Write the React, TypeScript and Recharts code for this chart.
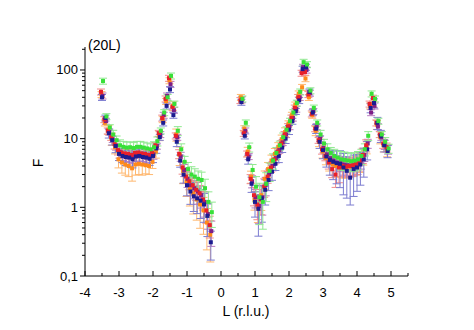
import { ScatterChart, Scatter, XAxis, YAxis, ErrorBar } from 'recharts'

// L grid (r.l.u.) for the two measured segments
const LA = [-3.5, -3.4, -3.3, -3.2, -3.1, -3.0, -2.9, -2.8, -2.7, -2.6, -2.5, -2.4, -2.3, -2.2, -2.1, -2.0, -1.9, -1.8, -1.7, -1.6, -1.5, -1.4, -1.3, -1.2, -1.1, -1.0, -0.9, -0.8, -0.7, -0.6, -0.5, -0.4, -0.3]
const LB = [0.6, 0.7, 0.8, 0.9, 1.0, 1.1, 1.2, 1.3, 1.4, 1.5, 1.6, 1.7, 1.8, 1.9, 2.0, 2.1, 2.2, 2.3, 2.4, 2.5, 2.6, 2.7, 2.8, 2.9, 3.0, 3.1, 3.2, 3.3, 3.4, 3.5, 3.6, 3.7, 3.8, 3.9, 4.0, 4.1, 4.2, 4.3, 4.4, 4.5, 4.6, 4.7, 4.8, 4.9]

// F values per series
const greenA = [69, 21, 14.5, 11.5, 9.5, 8.0, 7.6, 7.4, 7.5, 7.3, 7.6, 7.6, 7.4, 7.2, 7.0, 7.5, 9.2, 13, 24, 40, 82, 32, 13, 7.0, 4.6, 3.6, 3.0, 2.8, 2.6, 2.5, 1.9, 1.2, 0.85]
const redA = [48, 19, 13, 10.5, 8.3, 6.8, 6.3, 6.1, 6.0, 5.8, 6.2, 6.3, 6.1, 6.0, 5.8, 6.2, 8.0, 12, 20, 38, 76, 29, 11, 6.0, 3.8, 2.8, 2.4, 2.1, 1.8, 1.6, 1.3, 0.9, 0.55]
const navyA = [40, 20, 12, 9.5, 7.8, 6.0, 5.6, 5.4, 5.3, 5.0, 5.5, 5.6, 5.4, 5.3, 5.1, 5.6, 7.2, 10.5, 17, 30, 52, 22, 9, 4.8, 3.0, 2.1, 1.7, 1.45, 1.35, 1.25, 1.1, 0.75, 0.31]
const orangeA = [44, 17, 13.5, 10, 7.5, 5.0, 4.5, 4.2, 4.0, 3.7, 4.2, 4.3, 4.2, 4.1, 4.0, 4.6, 6.5, 11, 19, 35, 70, 30, 11.5, 5.8, 3.4, 2.4, 1.9, 1.6, 1.3, 1.1, 0.9, 0.6, 0.4]
const purpleA = [42, 18, 12.5, 9.8, 8, 6.5, 6.0, 5.8, 5.6, 5.4, 5.8, 5.9, 5.8, 5.6, 5.5, 5.9, 7.8, 11.5, 22, 42, 62, 26, 10.5, 5.5, 3.5, 2.6, 2.1, 1.9, 1.7, 1.5, 1.2, 0.8, 0.45]

const greenB = [38, 17, 7.5, 3.5, 2.0, 1.4, 1.2, 2.2, 3.4, 4.8, 6.2, 8.0, 10.5, 13.5, 18, 24, 33, 48, 130, 120, 50, 28, 17, 11.5, 8.5, 7.0, 6.2, 5.6, 5.3, 5.0, 4.9, 4.8, 4.7, 4.8, 5.0, 5.6, 7.0, 11, 45, 38, 18, 11.5, 9.0, 7.2]
const redB = [36, 12, 6.0, 2.6, 1.5, 1.1, 1.3, 2.0, 2.8, 3.8, 5.0, 6.5, 8.5, 11.5, 15, 20, 28, 40, 90, 93, 44, 23, 14, 9.5, 7.0, 5.6, 4.5, 3.6, 3.0, 3.8, 4.0, 3.9, 4.0, 4.1, 4.3, 4.8, 5.8, 8.0, 32, 39, 17, 11.5, 8.5, 7.5]
const navyB = [34, 11, 5.0, 2.2, 1.2, 0.95, 1.35, 1.8, 2.5, 3.3, 4.3, 5.6, 7.4, 10, 13.5, 18, 25, 36, 103, 110, 48, 24, 14, 9.0, 6.8, 5.5, 4.9, 4.6, 4.4, 4.3, 3.8, 3.4, 2.7, 3.6, 3.8, 4.2, 5.0, 7.0, 28, 33, 17, 11, 8.0, 6.6]
const orangeB = [40, 14, 6.5, 2.8, 1.3, 1.0, 1.5, 2.6, 3.6, 4.8, 6.0, 7.6, 9.8, 12.5, 16.5, 22, 31, 45, 56, 75, 40, 22, 13, 9.0, 6.5, 5.2, 4.5, 4.2, 4.0, 3.9, 3.8, 3.8, 3.9, 4.0, 4.2, 4.6, 5.5, 7.5, 30, 32, 16, 10.5, 8.0, 6.8]
const purpleB = [37, 13, 5.5, 2.4, 1.4, 1.05, 1.4, 2.1, 3.0, 4.0, 5.2, 6.8, 8.8, 11.5, 15, 20, 27, 40, 110, 100, 46, 25, 15, 10, 7.3, 5.9, 5.2, 4.8, 4.5, 4.4, 4.2, 4.1, 4.0, 4.1, 4.3, 4.8, 5.8, 8.5, 24, 30, 15, 10.5, 8.2, 7.0]

// relative error (half bar / F) per point
const greenErrA = [0.1, 0.1, 0.1, 0.15, 0.15, 0.2, 0.2, 0.2, 0.2, 0.2, 0.2, 0.2, 0.2, 0.2, 0.2, 0.2, 0.15, 0.1, 0.1, 0.1, 0.1, 0.1, 0.15, 0.2, 0.2, 0.25, 0.3, 0.3, 0.3, 0.3, 0.35, 0.4, 0.4]
const redErrA = [0.1, 0.1, 0.1, 0.1, 0.15, 0.15, 0.15, 0.15, 0.15, 0.15, 0.15, 0.15, 0.15, 0.15, 0.15, 0.15, 0.1, 0.1, 0.1, 0.1, 0.1, 0.1, 0.1, 0.15, 0.2, 0.2, 0.25, 0.25, 0.3, 0.3, 0.3, 0.35, 0.35]
const navyErrA = [0.1, 0.1, 0.15, 0.15, 0.2, 0.2, 0.2, 0.25, 0.25, 0.25, 0.25, 0.25, 0.2, 0.2, 0.2, 0.2, 0.15, 0.1, 0.1, 0.1, 0.1, 0.1, 0.15, 0.2, 0.25, 0.3, 0.35, 0.4, 0.4, 0.45, 0.45, 0.5, 0.45]
const orangeErrA = [0.1, 0.1, 0.15, 0.2, 0.2, 0.25, 0.3, 0.3, 0.3, 0.35, 0.3, 0.3, 0.3, 0.25, 0.25, 0.2, 0.2, 0.15, 0.1, 0.1, 0.1, 0.15, 0.2, 0.3, 0.35, 0.4, 0.45, 0.5, 0.5, 0.55, 0.55, 0.6, 0.6]
const purpleErrA = [0.1, 0.1, 0.1, 0.1, 0.15, 0.2, 0.2, 0.2, 0.2, 0.2, 0.2, 0.2, 0.2, 0.2, 0.2, 0.15, 0.1, 0.1, 0.1, 0.1, 0.1, 0.1, 0.1, 0.15, 0.2, 0.25, 0.3, 0.3, 0.35, 0.35, 0.4, 0.4, 0.4]

const greenErrB = [0.1, 0.1, 0.15, 0.2, 0.4, 0.6, 0.6, 0.45, 0.3, 0.25, 0.2, 0.15, 0.15, 0.1, 0.1, 0.1, 0.1, 0.1, 0.1, 0.1, 0.1, 0.1, 0.1, 0.15, 0.15, 0.2, 0.2, 0.25, 0.25, 0.3, 0.3, 0.3, 0.3, 0.3, 0.3, 0.25, 0.2, 0.15, 0.1, 0.1, 0.1, 0.1, 0.15, 0.15]
const redErrB = [0.1, 0.1, 0.1, 0.15, 0.3, 0.4, 0.4, 0.3, 0.2, 0.15, 0.15, 0.1, 0.1, 0.1, 0.1, 0.1, 0.1, 0.1, 0.1, 0.1, 0.1, 0.1, 0.1, 0.1, 0.15, 0.15, 0.2, 0.25, 0.35, 0.4, 0.3, 0.3, 0.3, 0.3, 0.3, 0.3, 0.25, 0.2, 0.1, 0.1, 0.1, 0.1, 0.15, 0.15]
const navyErrB = [0.1, 0.1, 0.15, 0.25, 0.4, 0.6, 0.55, 0.4, 0.3, 0.25, 0.2, 0.2, 0.15, 0.15, 0.15, 0.1, 0.1, 0.1, 0.1, 0.1, 0.1, 0.1, 0.15, 0.2, 0.25, 0.3, 0.4, 0.45, 0.5, 0.55, 0.6, 0.6, 0.6, 0.6, 0.55, 0.5, 0.45, 0.3, 0.15, 0.15, 0.2, 0.2, 0.2, 0.2]
const orangeErrB = [0.1, 0.1, 0.15, 0.2, 0.3, 0.4, 0.4, 0.3, 0.25, 0.2, 0.2, 0.15, 0.15, 0.15, 0.1, 0.1, 0.1, 0.1, 0.1, 0.1, 0.1, 0.1, 0.15, 0.15, 0.2, 0.2, 0.25, 0.3, 0.3, 0.3, 0.3, 0.3, 0.3, 0.3, 0.3, 0.3, 0.25, 0.2, 0.1, 0.1, 0.15, 0.2, 0.2, 0.2]
const purpleErrB = [0.1, 0.1, 0.1, 0.2, 0.3, 0.45, 0.45, 0.3, 0.2, 0.15, 0.15, 0.1, 0.1, 0.1, 0.1, 0.1, 0.1, 0.1, 0.1, 0.1, 0.1, 0.1, 0.1, 0.1, 0.15, 0.15, 0.2, 0.2, 0.25, 0.25, 0.3, 0.3, 0.3, 0.3, 0.3, 0.25, 0.2, 0.15, 0.1, 0.1, 0.1, 0.1, 0.15, 0.15]

const X_TICKS = [-4, -3.5, -3, -2.5, -2, -1.5, -1, -0.5, 0, 0.5, 1, 1.5, 2, 2.5, 3, 3.5, 4, 4.5, 5, 5.5]
const Y_TICKS = [0.1, 0.2, 0.3, 0.4, 0.5, 0.6, 0.7, 0.8, 0.9, 1, 2, 3, 4, 5, 6, 7, 8, 9, 10, 20, 30, 40, 50, 60, 70, 80, 90, 100, 200]
const Y_LABELS: Record<number, string> = { 0.1: '0,1', 1: '1', 10: '10', 100: '100' }

const FONT = '"Liberation Sans", Arial, sans-serif'

function build(fa: number[], ea: number[], fb: number[], eb: number[], shift: number) {
  return [
    ...LA.map((L, i) => ({ L: L + shift, F: fa[i], err: fa[i] * ea[i] })),
    ...LB.map((L, i) => ({ L: L + shift, F: fb[i], err: fb[i] * eb[i] })),
  ]
}

const SERIES = [
  { name: 'orange', color: '#ff8a1a', errColor: '#ffb870', data: build(orangeA, orangeErrA, orangeB, orangeErrB, -0.015) },
  { name: 'purple', color: '#7e1f86', errColor: '#b87ac0', data: build(purpleA, purpleErrA, purpleB, purpleErrB, 0.015) },
  { name: 'red', color: '#e8202a', errColor: '#f28a8a', data: build(redA, redErrA, redB, redErrB, -0.03) },
  { name: 'navy', color: '#1c1c90', errColor: '#7c7cd0', data: build(navyA, navyErrA, navyB, navyErrB, 0) },
  { name: 'green', color: '#38e038', errColor: '#90e890', data: build(greenA, greenErrA, greenB, greenErrB, 0.03) },
]

function square(color: string) {
  return (p: any) => <rect x={p.cx - 2} y={p.cy - 2} width={4} height={4} fill={color} />
}

function XTick({ x, y, payload }: any) {
  const major = Number.isInteger(payload.value)
  return (
    <g>
      <line x1={x} x2={x} y1={y} y2={y - (major ? 5 : 3)} stroke="#000" />
      {major && (
        <text x={x} y={y + 16} textAnchor="middle" dominantBaseline="central" fontSize={13} fontFamily={FONT} fill="#000">
          {payload.value}
        </text>
      )}
    </g>
  )
}

function YTick({ x, y, payload }: any) {
  const label = Y_LABELS[payload.value]
  return (
    <g>
      <line x1={x} x2={x - (label ? 5 : 3)} y1={y} y2={y} stroke="#000" />
      {label && (
        <text x={x - 7} y={y} textAnchor="end" dominantBaseline="central" fontSize={13} fontFamily={FONT} fill="#000">
          {label}
        </text>
      )}
    </g>
  )
}

export default function App() {
  return (
    <div style={{ position: 'absolute', left: 0, top: 0, width: 474, height: 330, background: '#fff', fontFamily: FONT }}>
      <ScatterChart width={474} height={330} margin={{ top: 47, right: 66, bottom: 24, left: 45 }}>
        <XAxis
          type="number"
          dataKey="L"
          domain={[-4, 5.5]}
          ticks={X_TICKS}
          allowDataOverflow
          height={30}
          tickSize={0}
          tickMargin={0}
          tickLine={false}
          tick={<XTick />}
          interval={0}
          stroke="#000"
        />
        <YAxis
          type="number"
          dataKey="F"
          scale="log"
          domain={[0.1, 216]}
          ticks={Y_TICKS}
          allowDataOverflow
          width={40}
          tickSize={0}
          tickMargin={0}
          tickLine={false}
          tick={<YTick />}
          interval={0}
          stroke="#000"
        />
        {SERIES.map((s) => (
          <Scatter key={s.name} name={s.name} data={s.data} shape={square(s.color)} isAnimationActive={false}>
            <ErrorBar dataKey="err" direction="y" width={4} stroke={s.errColor} strokeWidth={1} />
          </Scatter>
        ))}
      </ScatterChart>
      <div style={{ position: 'absolute', left: 88, top: 37, fontSize: 14, color: '#000' }}>(20L)</div>
      <div style={{ position: 'absolute', left: 38, top: 163, fontSize: 14, color: '#000', transform: 'translate(-50%, -50%) rotate(-90deg)' }}>F</div>
      <div style={{ position: 'absolute', left: 246, top: 311, fontSize: 14, color: '#000', transform: 'translate(-50%, -50%)' }}>L (r.l.u.)</div>
    </div>
  )
}
